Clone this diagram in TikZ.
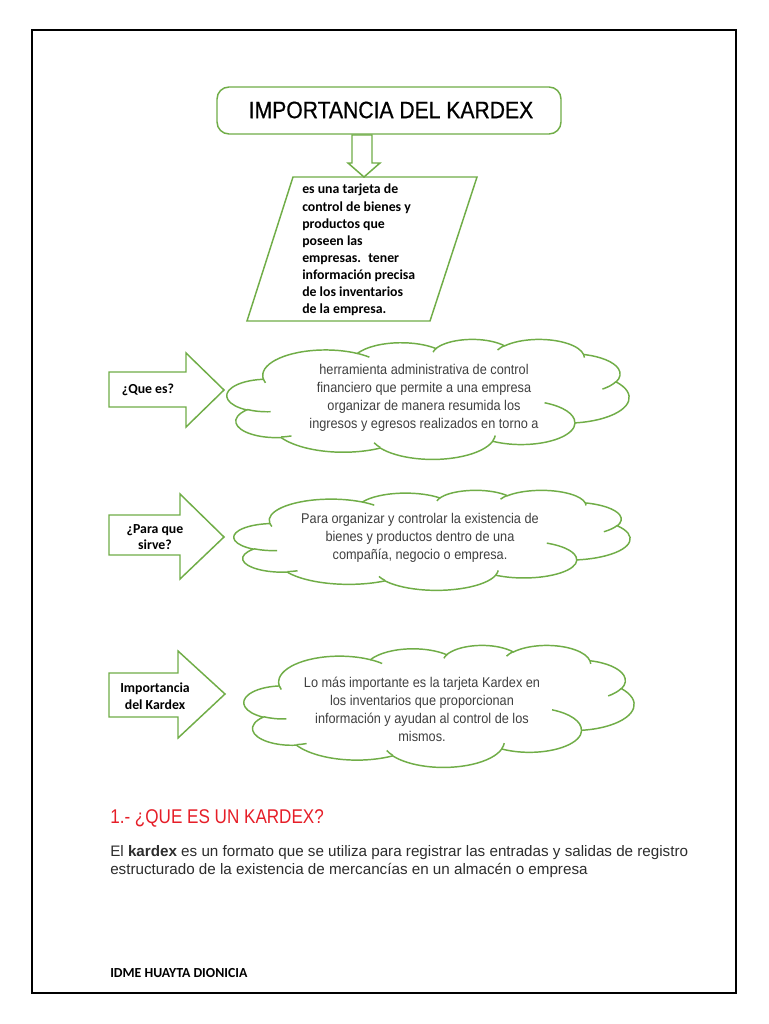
\documentclass[tikz,border=0pt]{standalone}
\usepackage{fontspec}
\setmainfont{Liberation Sans}
\newfontfamily\calfont{Carlito}
\newfontfamily\narrowfont[FakeStretch=0.90]{Liberation Sans}
\newfontfamily\headfont[FakeStretch=0.86]{Liberation Sans}
\newfontfamily\titlefont[FakeStretch=0.89,FakeBold=0.7]{Liberation Sans}
\definecolor{grn}{RGB}{112,173,71}
\definecolor{txtgray}{RGB}{64,64,64}
\definecolor{bodygray}{RGB}{45,45,45}
\definecolor{hred}{RGB}{230,30,40}
\tikzset{
  gline/.style={draw=grn, line width=1.1pt, line join=miter},
  cloudline/.style={draw=grn, line width=1.1pt},
  cloudtext/.style={align=center, text=txtgray, font=\narrowfont\fontsize{10.6}{13.5}\selectfont},
  arrowtext/.style={align=center, font=\calfont\bfseries\fontsize{10.35}{12.5}\selectfont},
}
% Office-style cloud in a 432 x 432 box (y upwards, origin bottom left)
\newcommand{\officecloud}{%
  \draw[cloudline] (39.00,288.30)
    arc[start angle=187.75, delta angle=-128.12, x radius=67.53, y radius=91.90]
    arc[start angle=152.02, delta angle=-106.55, x radius=53.33, y radius=72.67]
    arc[start angle=153.48, delta angle=-116.15, x radius=43.65, y radius=59.45]
    arc[start angle=139.72, delta angle=-129.50, x radius=48.57, y radius=65.95]
    arc[start angle=74.77, delta angle=-97.98, x radius=53.33, y radius=72.73]
    arc[start angle=37.53, delta angle=-119.39, x radius=67.75, y radius=92.20]
    arc[start angle=-0.46, delta angle=-121.54, x radius=57.85, y radius=78.67]
    arc[start angle=-16.84, delta angle=-129.41, x radius=67.52, y radius=92.15]
    arc[start angle=-59.03, delta angle=-91.13, x radius=77.20, y radius=105.43]
    arc[start angle=276.70, delta angle=-139.81, x radius=43.60, y radius=59.18]
    arc[start angle=239.62, delta angle=-143.73, x radius=43.45, y radius=59.45]
    -- cycle;
  \draw[cloudline]
    (46.93,170.23) arc[start angle=-85.54, delta angle=-34.84, x radius=43.45, y radius=59.45]
    (69.28,83.01) arc[start angle=-68.28, delta angle=-15.02, x radius=43.60, y radius=59.18]
    (164.78,41.10) arc[start angle=-146.25, delta angle=-12.22, x radius=67.52, y radius=92.15]
    (288.27,84.49) arc[start angle=-4.74, delta angle=-12.10, x radius=67.52, y radius=92.15]
    (341.29,202.46) arc[start angle=63.97, delta angle=-64.43, x radius=57.85, y radius=78.67]
    (417.98,278.46) arc[start angle=-23.19, delta angle=-26.46, x radius=53.33, y radius=72.73]
    (383.24,377.74) arc[start angle=10.21, delta angle=-11.03, x radius=48.57, y radius=65.95]
    (290.78,392.48) arc[start angle=156.28, delta angle=-16.56, x radius=48.57, y radius=65.95]
    (221.41,384.80) arc[start angle=167.72, delta angle=-14.24, x radius=43.65, y radius=59.45]
    (140.00,380.08) arc[start angle=59.63, delta angle=-13.88, x radius=67.53, y radius=91.90]
    (41.27,274.11) arc[start angle=-163.19, delta angle=-9.06, x radius=67.53, y radius=91.90];
}
\begin{document}
\begin{tikzpicture}[x=0.75pt,y=-0.75pt]
\useasboundingbox (0,0) rectangle (768,1024);
\fill[white] (0,0) rectangle (768,1024);
% page frame
\draw[line width=1.6pt] (32,30) rectangle (736,993);

% title
\draw[gline, rounded corners=9pt] (217,87) rectangle (561,134);
\node[font=\titlefont\fontsize{17.8}{20}\selectfont] (title) at (391,110) {IMPORTANCIA DEL KARDEX};

% down block arrow
\draw[gline] (352,135) -- (372,135) -- (372,163) -- (380,163) -- (364,177) -- (348,163) -- (352,163) -- cycle;

% parallelogram
\draw[gline] (293,177) -- (477,177) -- (430,321) -- (247,321) -- cycle;
\node[anchor=north west, align=left, inner sep=0pt, font=\calfont\bfseries\fontsize{10.35}{12.8}\selectfont] (def) at (302,184)
{es una tarjeta de\\control de bienes y\\productos que\\poseen las\\empresas.~ tener\\informaci\'on precisa\\de los inventarios\\de la empresa.};

% right block arrows
\draw[gline] (109,372) -- (186,372) -- (186,353) -- (224,390) -- (186,427) -- (186,407) -- (109,407) -- cycle;
\node[arrowtext] (q1) at (148,390) {¿Que es?};

\draw[gline] (109,515) -- (180,515) -- (180,494) -- (224,537) -- (180,579) -- (180,555) -- (109,555) -- cycle;
\node[arrowtext] (q2) at (155,537) {¿Para que\\sirve?};

\draw[gline] (109,673) -- (178,673) -- (178,651) -- (225,694) -- (178,738) -- (178,717) -- (109,717) -- cycle;
\node[arrowtext] (q3) at (155,696) {Importancia\\del Kardex};

% clouds (shift to bottom-left corner, local y upwards)
\begin{scope}[shift={(227,459)}, x=0.69792pt, y=0.20833pt]
  \officecloud
\end{scope}
\node[cloudtext] (t1) at (424,398) {herramienta administrativa de control\\financiero que permite a una empresa\\organizar de manera resumida los\\ingresos y egresos realizados en torno a};

\begin{scope}[shift={(234,590)}, x=0.6875pt, y=0.17361pt]
  \officecloud
\end{scope}
\node[cloudtext] (t2) at (420,538) {Para organizar y controlar la existencia de\\bienes y productos dentro de una\\compa\~n\'ia, negocio o empresa.};

\begin{scope}[shift={(244,767)}, x=0.67708pt, y=0.21181pt]
  \officecloud
\end{scope}
\node[cloudtext] (t3) at (422,709) {Lo m\'as importante es la tarjeta Kardex en\\los inventarios que proporcionan\\informaci\'on y ayudan al control de los\\mismos.};

% heading and body
\node[anchor=west, inner sep=0pt, text=hred, font=\headfont\fontsize{14.9}{17}\selectfont] (h1) at (110,818) {1.- ¿QUE ES UN KARDEX?};
\node[anchor=north west, align=left, inner sep=0pt, text=bodygray, font=\fontsize{11.4}{13.5}\selectfont] (body) at (110,845)
{El \textbf{kardex} es un formato que se utiliza para registrar las entradas y salidas de registro\\estructurado de la existencia de mercanc\'ias en un almac\'en o empresa};

% footer
\node[anchor=west, inner sep=0pt, font=\calfont\bfseries\fontsize{10.35}{12}\selectfont] (foot) at (110,973) {IDME HUAYTA DIONICIA};
\end{tikzpicture}
\end{document}
